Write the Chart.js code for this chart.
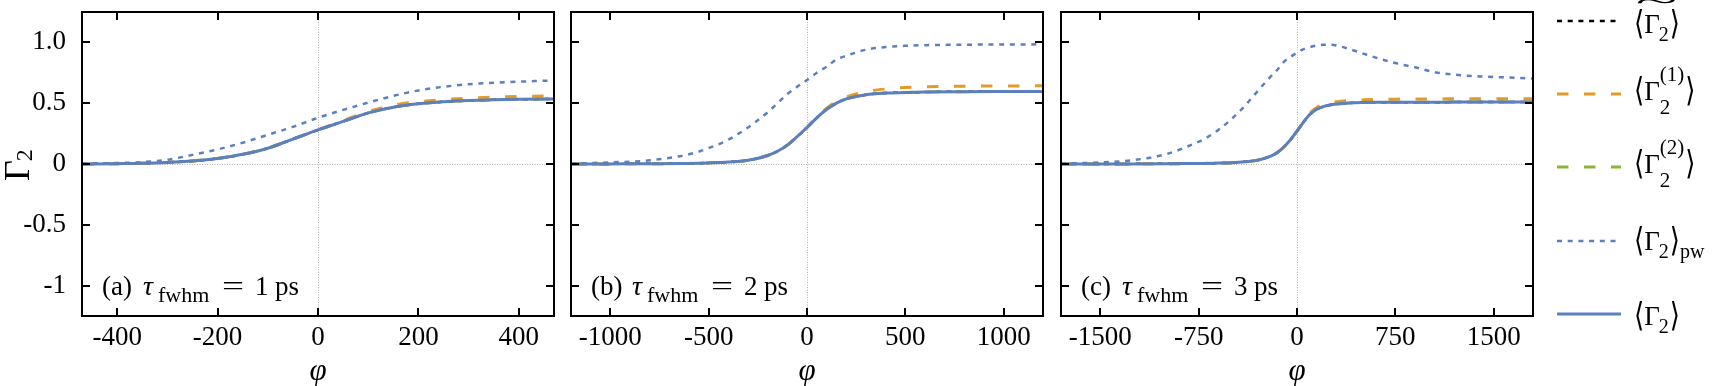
<!DOCTYPE html>
<html>
<head>
<meta charset="utf-8">
<script src="https://cdn.jsdelivr.net/npm/chart.js@4.4.1/dist/chart.umd.min.js"></script>
<style>
html,body{margin:0;padding:0;background:#ffffff;}
#wrap{position:relative;width:1725px;height:386px;overflow:hidden;background:#fff;}
#wrap canvas{position:absolute;left:0;top:0;}
</style>
</head>
<body>
<div id="wrap">
<canvas id="ca" width="1725" height="386" style="width:1725px;height:386px"></canvas>
<canvas id="cb" width="1725" height="386" style="width:1725px;height:386px"></canvas>
<canvas id="cc" width="1725" height="386" style="width:1725px;height:386px"></canvas>
</div>
<script>
// ---------------- data ----------------
// panel (a)  tau_fwhm = 1 ps
const phiA      = [-470,-400,-350,-300,-250,-200,-150,-100,-50,0,50,100,150,200,250,300,350,400,470];
const gammaA    = [0.000,0.003,0.006,0.013,0.025,0.045,0.080,0.130,0.205,0.280,0.350,0.420,0.467,0.495,0.512,0.522,0.528,0.532,0.535];
const gammaTildeA = [0.000,0.003,0.006,0.013,0.025,0.045,0.080,0.130,0.205,0.280,0.350,0.420,0.467,0.495,0.512,0.522,0.528,0.532,0.535];
const gamma2A   = [0.000,0.003,0.006,0.013,0.025,0.045,0.080,0.130,0.205,0.280,0.350,0.420,0.467,0.495,0.512,0.522,0.528,0.532,0.535];
const gamma1A   = [0.000,0.003,0.006,0.013,0.025,0.045,0.080,0.130,0.205,0.280,0.357,0.430,0.483,0.512,0.530,0.542,0.550,0.556,0.561];
const gammaPwA  = [0.003,0.008,0.016,0.035,0.075,0.120,0.175,0.240,0.305,0.380,0.445,0.505,0.560,0.605,0.635,0.656,0.668,0.677,0.687];

// panel (b)  tau_fwhm = 2 ps
const phiB      = [-1200,-1000,-800,-600,-500,-400,-300,-200,-150,-100,-50,0,50,100,150,200,300,400,500,600,800,1000,1200];
const gammaB    = [0.000,0.001,0.002,0.005,0.009,0.016,0.030,0.070,0.105,0.155,0.225,0.300,0.380,0.450,0.500,0.535,0.570,0.583,0.588,0.592,0.595,0.596,0.596];
const gammaTildeB = [0.000,0.001,0.002,0.005,0.009,0.016,0.030,0.070,0.105,0.155,0.225,0.300,0.380,0.450,0.500,0.535,0.570,0.583,0.588,0.592,0.595,0.596,0.596];
const gamma2B   = [0.000,0.001,0.002,0.005,0.009,0.016,0.030,0.070,0.105,0.155,0.225,0.300,0.380,0.450,0.500,0.535,0.570,0.583,0.588,0.592,0.595,0.596,0.596];
const gamma1B   = [0.000,0.001,0.002,0.005,0.009,0.016,0.030,0.070,0.105,0.155,0.225,0.300,0.385,0.460,0.515,0.550,0.595,0.617,0.629,0.635,0.640,0.642,0.643];
const gammaPwB  = [0.004,0.013,0.030,0.080,0.130,0.200,0.300,0.425,0.500,0.575,0.635,0.690,0.750,0.800,0.860,0.890,0.940,0.962,0.972,0.977,0.981,0.983,0.984];

// panel (c)  tau_fwhm = 3 ps
const phiC      = [-1800,-1500,-1250,-1000,-800,-700,-600,-500,-400,-300,-200,-150,-100,-50,0,50,100,150,200,250,300,400,500,600,750,900,1050,1200,1400,1600,1800];
const gammaC    = [0.000,0.000,0.001,0.002,0.004,0.005,0.008,0.011,0.018,0.032,0.065,0.095,0.140,0.200,0.270,0.345,0.410,0.450,0.472,0.485,0.493,0.501,0.505,0.507,0.508,0.508,0.508,0.509,0.509,0.509,0.509];
const gammaTildeC = [0.000,0.000,0.001,0.002,0.004,0.005,0.008,0.011,0.018,0.032,0.065,0.095,0.140,0.200,0.270,0.345,0.410,0.450,0.472,0.485,0.493,0.501,0.505,0.507,0.508,0.508,0.508,0.509,0.509,0.509,0.509];
const gamma2C   = [0.000,0.000,0.001,0.002,0.004,0.005,0.008,0.011,0.018,0.032,0.065,0.095,0.140,0.200,0.270,0.345,0.410,0.450,0.472,0.485,0.493,0.501,0.505,0.507,0.508,0.508,0.508,0.509,0.509,0.509,0.509];
const gamma1C   = [0.000,0.000,0.001,0.002,0.004,0.005,0.008,0.011,0.018,0.032,0.065,0.095,0.140,0.200,0.270,0.350,0.420,0.465,0.490,0.503,0.512,0.522,0.527,0.531,0.533,0.535,0.535,0.536,0.536,0.537,0.537];
const gammaPwC  = [0.004,0.013,0.032,0.080,0.160,0.210,0.280,0.370,0.475,0.600,0.720,0.775,0.840,0.880,0.915,0.945,0.962,0.974,0.980,0.981,0.975,0.945,0.910,0.875,0.830,0.795,0.755,0.735,0.720,0.712,0.703];

// axes
const xRangeA = [-470, 470];
const xRangeB = [-1200, 1200];
const xRangeC = [-1800, 1800];
const xTicksA = [-400, -200, 0, 200, 400];
const xTicksB = [-1000, -500, 0, 500, 1000];
const xTicksC = [-1500, -750, 0, 750, 1500];
const yRange  = [-1.25, 1.25];
const yTicks  = [-1, -0.5, 0, 0.5, 1];
const yTickLabels = ['-1', '-0.5', '0', '0.5', '1.0'];
const panelTags = ['(a)', '(b)', '(c)'];
const panelDurations = ['1', '2', '3'];

// ---------------- styling / layout ----------------
const SERIF = "'Liberation Serif','DejaVu Serif','Times New Roman',serif";
const C_BLACK = '#000000', C_ORANGE = '#e29b2b', C_GREEN = '#8db33a', C_BLUE = '#5b80bd';
const LEFTS = [82, 571, 1061];
const RIGHTS = [554, 1043, 1533];
const TOP = 12, BOTTOM = 316, W = 1725, H = 386;

function pts(xs, ys) { return xs.map((x, i) => ({x: x, y: ys[i]})); }

function makeDatasets(phi, tilde, g1, g2, pw, g) {
  const base = {pointRadius: 0, pointHoverRadius: 0, fill: false, cubicInterpolationMode: 'monotone', borderCapStyle: 'butt'};
  return [
    Object.assign({}, base, {label: 'tilde', data: pts(phi, tilde), borderColor: C_BLACK, borderWidth: 2.5, borderDash: [5, 5.7], order: 4}),
    Object.assign({}, base, {label: 'g1', data: pts(phi, g1), borderColor: C_ORANGE, borderWidth: 3, borderDash: [11.5, 15.5], order: 2}),
    Object.assign({}, base, {label: 'g2', data: pts(phi, g2), borderColor: C_GREEN, borderWidth: 3, borderDash: [11.5, 15.5], order: 3}),
    Object.assign({}, base, {label: 'pw', data: pts(phi, pw), borderColor: C_BLUE, borderWidth: 2.5, borderDash: [5, 5.7], order: 1}),
    Object.assign({}, base, {label: 'g', data: pts(phi, g), borderColor: C_BLUE, borderWidth: 3, borderDash: [], order: 0})
  ];
}

function put(ctx, t, x, y, size, italic) {
  ctx.font = (italic ? 'italic ' : '') + size + 'px ' + SERIF;
  ctx.fillText(t, x, y);
  return ctx.measureText(t).width;
}

function line(ctx, x1, y1, x2, y2) { ctx.beginPath(); ctx.moveTo(x1, y1); ctx.lineTo(x2, y2); ctx.stroke(); }

function bracket(ctx, ch, x, b) {
  // tall math angle bracket
  ctx.save();
  ctx.translate(x, b);
  ctx.scale(0.9, 1.15);
  const w = put(ctx, ch, 0, 1, 29);
  ctx.restore();
  return w * 0.9;
}

function drawLegend(chart) {
  const ctx = chart.ctx;
  const ds = chart.data.datasets;
  const rows = [21, 94, 167, 241, 314];
  ctx.save();
  rows.forEach((yy, i) => {
    const d = ds[i];
    ctx.strokeStyle = d.borderColor; ctx.lineWidth = d.borderWidth; ctx.setLineDash(d.borderDash || []);
    line(ctx, 1557, yy, 1621, yy);
  });
  ctx.setLineDash([]);
  ctx.fillStyle = '#000'; ctx.textAlign = 'left'; ctx.textBaseline = 'alphabetic';
  const X0 = 1634;
  // 1: <tilde Gamma_2>
  let x = X0, b = 33;
  x += bracket(ctx, '\u27E8', x, b);
  const gx = x;
  x += put(ctx, '\u0393', x, b, 27);
  x += put(ctx, '2', x - 1, b + 7.5, 20) - 1;
  const tx = (gx + x) / 2;
  bracket(ctx, '\u27E9', x + 1, b);
  ctx.save(); ctx.translate(tx, 9); ctx.scale(3.0, 1); ctx.textAlign = 'center';
  put(ctx, '~', 0, 0, 26); ctx.restore();
  // 2 & 3: <Gamma_2^(k)>
  [[100, '(1)'], [173, '(2)']].forEach(([bb, sup]) => {
    let xx = X0;
    xx += bracket(ctx, '\u27E8', xx, bb);
    xx += put(ctx, '\u0393', xx, bb, 27);
    const w1 = put(ctx, sup, xx, bb - 19, 21);
    const w2 = put(ctx, '2', xx, bb + 14, 21);
    xx += Math.max(w1, w2) + 1;
    bracket(ctx, '\u27E9', xx, bb);
  });
  // 4: <Gamma_2>_pw
  x = X0; b = 250;
  x += bracket(ctx, '\u27E8', x, b);
  x += put(ctx, '\u0393', x, b, 27);
  x += put(ctx, '2', x - 1, b + 7.5, 20) - 1;
  x += bracket(ctx, '\u27E9', x + 1, b) + 1;
  put(ctx, 'pw', x, b + 8, 20);
  // 5: <Gamma_2>
  x = X0; b = 325;
  x += bracket(ctx, '\u27E8', x, b);
  x += put(ctx, '\u0393', x, b, 27);
  x += put(ctx, '2', x - 1, b + 7.5, 20) - 1;
  bracket(ctx, '\u27E9', x + 1, b);
  ctx.restore();
}

function panelPlugin(idx, xt) {
  return {
    id: 'panel' + idx,
    beforeDatasetsDraw(chart) {
      const ctx = chart.ctx, a = chart.chartArea, xs = chart.scales.x, ys = chart.scales.y;
      ctx.save();
      ctx.strokeStyle = '#b0b0b0'; ctx.lineWidth = 1; ctx.setLineDash([1, 1.5]);
      const x0 = Math.round(xs.getPixelForValue(0)) + 0.5;
      const y0 = Math.round(ys.getPixelForValue(0)) + 0.5;
      line(ctx, x0, a.top, x0, a.bottom);
      line(ctx, a.left, y0, a.right, y0);
      ctx.restore();
    },
    afterDraw(chart) {
      const ctx = chart.ctx, a = chart.chartArea, xs = chart.scales.x, ys = chart.scales.y;
      ctx.save();
      ctx.strokeStyle = '#000'; ctx.lineWidth = 2; ctx.setLineDash([]);
      ctx.strokeRect(a.left, a.top, a.right - a.left, a.bottom - a.top);
      xt.forEach(v => {
        const p = Math.round(xs.getPixelForValue(v));
        line(ctx, p, a.top, p, a.top + 8);
        line(ctx, p, a.bottom, p, a.bottom - 8);
      });
      yTicks.forEach(v => {
        const p = Math.round(ys.getPixelForValue(v));
        line(ctx, a.left, p, a.left + 8, p);
        line(ctx, a.right, p, a.right - 8, p);
      });
      ctx.fillStyle = '#000';
      // y tick labels (first panel only), placed with the y scale
      if (idx === 0) {
        ctx.textAlign = 'right'; ctx.textBaseline = 'middle';
        yTicks.forEach((v, i) => {
          put(ctx, yTickLabels[i], a.left - 16, ys.getPixelForValue(v), 27);
        });
      }
      // panel annotation
      ctx.textAlign = 'left'; ctx.textBaseline = 'alphabetic';
      const L = a.left, bl = 295;
      put(ctx, panelTags[idx], L + 20, bl, 27);
      put(ctx, '\u03C4', L + 61, bl, 28, true);
      put(ctx, 'fwhm', L + 76, bl + 7, 22);
      ctx.textAlign = 'center';
      ctx.save(); ctx.translate(L + 151, 0); ctx.scale(1.45, 1); put(ctx, '=', 0, bl, 27); ctx.restore();
      ctx.textAlign = 'left';
      put(ctx, panelDurations[idx], L + 173, bl, 27);
      put(ctx, 'ps', L + 193, bl, 27);
      // x axis title
      ctx.textAlign = 'center';
      put(ctx, '\u03C6', (a.left + a.right) / 2, 380, 31, true);
      // y axis title (first panel only)
      if (idx === 0) {
        ctx.save();
        ctx.translate(29, 181);
        ctx.rotate(-Math.PI / 2);
        ctx.textAlign = 'left';
        const wg = put(ctx, '\u0393', 0, 0, 36);
        put(ctx, '2', wg - 1, 3, 24);
        ctx.restore();
      }
      ctx.restore();
      if (idx === 2) drawLegend(chart);
    }
  };
}

function makeChart(id, idx, sets, xr, xt) {
  const showY = idx === 0;
  return new Chart(document.getElementById(id), {
    type: 'line',
    data: {datasets: sets},
    options: {
      responsive: false,
      animation: false,
      events: [],
      layout: {padding: {left: showY ? 0 : LEFTS[idx], right: W - RIGHTS[idx], top: TOP, bottom: 0}},
      plugins: {legend: {display: false}, tooltip: {enabled: false}},
      scales: {
        x: {
          type: 'linear', min: xr[0], max: xr[1], bounds: 'data',
          grid: {display: false, drawTicks: false}, border: {display: false},
          ticks: {autoSkip: false, maxRotation: 0, minRotation: 0, padding: 6, color: '#000',
                  font: {family: SERIF, size: 27}, callback: (v) => String(v)},
          afterBuildTicks: (s) => { s.ticks = xt.map(v => ({value: v})); },
          afterFit: (s) => { s.height = H - BOTTOM; }
        },
        y: {
          type: 'linear', min: yRange[0], max: yRange[1], display: showY,
          grid: {display: false, drawTicks: false}, border: {display: false},
          ticks: {display: false},
          afterBuildTicks: (s) => { s.ticks = yTicks.map(v => ({value: v})); },
          afterFit: (s) => { s.width = showY ? LEFTS[0] : 0; }
        }
      }
    },
    plugins: [panelPlugin(idx, xt)]
  });
}

makeChart('ca', 0, makeDatasets(phiA, gammaTildeA, gamma1A, gamma2A, gammaPwA, gammaA), xRangeA, xTicksA);
makeChart('cb', 1, makeDatasets(phiB, gammaTildeB, gamma1B, gamma2B, gammaPwB, gammaB), xRangeB, xTicksB);
makeChart('cc', 2, makeDatasets(phiC, gammaTildeC, gamma1C, gamma2C, gammaPwC, gammaC), xRangeC, xTicksC);
</script>
</body>
</html>
